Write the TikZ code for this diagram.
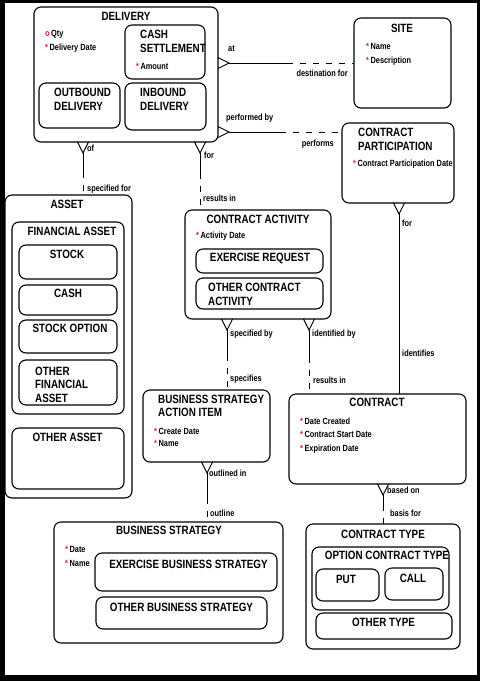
\documentclass[tikz,border=0pt]{standalone}
\usepackage{fontspec}
\setmainfont{Liberation Sans}[FakeStretch=0.82]
\usetikzlibrary{calc}
\definecolor{starred}{RGB}{222,30,40}
\newcommand{\ent}[5]{\node[ent, minimum width={(#4-#2)*1pt}, minimum height={(#5-#3)*1pt}] (#1) at (#2,#3) {};}
\newcommand{\attr}[4]{\node[attr] (#1) at (#2,#3) {\textcolor{starred}{*}\,#4};}
\newcommand{\rel}[3]{ \draw[conn] ($(#1)!5.5pt!90:(#2)$) -- ($(#1)!11pt!(#2)$) -- ($(#1)!5.5pt!-90:(#2)$);
  \draw[conn] ($(#1)!11pt!(#2)$) -- ($(#1)!#3!(#2)$);
  \draw[conn, opt] ($(#1)!#3!(#2)$) -- (#2);}

\begin{document}
\begin{tikzpicture}[x=1pt,y=-1pt,
    ent/.style={draw, line width=1.1pt, rounded corners=7pt, anchor=north west, inner sep=0pt, outer sep=0pt},
    ttl/.style={font=\fontsize{12}{13.5}\selectfont\bfseries, inner sep=0pt, anchor=north},
    ttlw/.style={ttl, anchor=north west, align=left},
    attr/.style={font=\fontsize{9}{10}\selectfont\bfseries, inner sep=0pt, anchor=base west},
    lbl/.style={attr},
    conn/.style={line width=0.9pt},
    opt/.style={dash pattern=on 6pt off 7pt}]
        % frame
        \fill[black] (0,0) rectangle (480,681);
        \fill[white] (5,3) rectangle (477,675);

        % delivery
        \ent{deliv}{34}{7}{218}{142}
        \ent{cashset}{125}{25}{205}{79}
        \ent{outdel}{39}{83}{120}{128}
        \ent{indel}{125}{83}{206}{130}
        \node[ttl] (deliv-t) at (126,12) {DELIVERY};
        \node[attr] (qty) at (45,36.5) {\textcolor{starred}{o}\,Qty};
        \attr{deldate}{45}{50.7}{Delivery Date}
        \node[ttlw] (cashset-t) at (140,30) {CASH\\SETTLEMENT};
        \attr{amount}{136}{69}{Amount}
        \node[ttlw] (outdel-t) at (54,88) {OUTBOUND\\DELIVERY};
        \node[ttlw] (indel-t) at (140,88) {INBOUND\\DELIVERY};

        % site
        \ent{site}{354}{18}{451}{108}
        \node[ttl] (site-t) at (402,23.5) {SITE};
        \attr{sitename}{366}{49}{Name}
        \attr{sitedesc}{366}{63.3}{Description}

        % contract participation
        \ent{cp}{342}{123}{454}{203}
        \node[ttlw] (cp-t) at (358,128) {CONTRACT\\PARTICIPATION};
        \attr{cpdate}{353}{166.7}{Contract Participation Date}

        % asset
        \ent{asset}{5}{195}{132}{498}
        \ent{finasset}{12}{222}{124}{414}
        \ent{stock}{19}{245}{117}{279}
        \ent{cash}{19}{285}{117}{315}
        \ent{stockopt}{19}{320}{117}{353}
        \ent{othfin}{19}{360}{117}{405}
        \ent{othasset}{12}{428}{124}{489}
        \node[ttl] (asset-t) at (67,199.7) {ASSET};
        \node[ttl] (finasset-t) at (72,226.5) {FINANCIAL ASSET};
        \node[ttl] (stock-t) at (67,249.5) {STOCK};
        \node[ttl] (cash-t) at (68,288.7) {CASH};
        \node[ttl] (stockopt-t) at (70,324) {STOCK OPTION};
        \node[ttlw] (othfin-t) at (35,366.5) {OTHER\\FINANCIAL\\ASSET};
        \node[ttl] (othasset-t) at (67.5,432.5) {OTHER ASSET};

        % contract activity
        \ent{ca}{185}{210}{331}{319}
        \ent{exreq}{196}{249}{323}{273}
        \ent{othca}{196}{278}{323}{309}
        \node[ttl] (ca-t) at (258,214.7) {CONTRACT ACTIVITY};
        \attr{cadate}{196}{238.3}{Activity Date}
        \node[ttl] (exreq-t) at (260,253) {EXERCISE REQUEST};
        \node[ttlw] (othca-t) at (208,283) {OTHER CONTRACT\\ACTIVITY};

        % business strategy action item
        \ent{bsai}{143}{390}{270}{462}
        \node[ttlw] (bsai-t) at (158,394.7) {BUSINESS STRATEGY\\ACTION ITEM};
        \attr{bsaidate}{154}{434}{Create Date}
        \attr{bsainame}{154}{446.7}{Name}

        % contract
        \ent{contract}{289}{394}{466}{484}
        \node[ttl] (contract-t) at (377,398) {CONTRACT};
        \attr{cdate}{300}{424.3}{Date Created}
        \attr{cstart}{300}{437.3}{Contract Start Date}
        \attr{cexp}{300}{451.7}{Expiration Date}

        % business strategy
        \ent{bs}{54}{522}{283}{643}
        \ent{ebs}{95}{553}{277}{591}
        \ent{obs}{96}{597}{267}{629}
        \node[ttl] (bs-t) at (169,526.4) {BUSINESS STRATEGY};
        \attr{bsdate}{65}{552.7}{Date}
        \attr{bsname}{65}{566}{Name}
        \node[ttl] (ebs-t) at (188.5,559.7) {EXERCISE BUSINESS STRATEGY};
        \node[ttl] (obs-t) at (181.5,603) {OTHER BUSINESS STRATEGY};

        % contract type
        \ent{ctype}{306}{524}{460}{649}
        \ent{oct}{312}{547}{449}{610}
        \ent{put}{316}{569}{379}{601}
        \ent{call}{385}{568}{443}{600}
        \ent{othtype}{316}{613}{452}{639}
        \node[ttl] (ctype-t) at (383,529.7) {CONTRACT TYPE};
        \node[ttl] (oct-t) at (387,551.4) {OPTION CONTRACT TYPE};
        \node[ttl] (put-t) at (346,575.4) {PUT};
        \node[ttl] (call-t) at (413,574) {CALL};
        \node[ttl] (othtype-t) at (383.5,618) {OTHER TYPE};

        % relationship ends
        \coordinate (r1a) at (deliv.east |- site.west);
        \coordinate (r2b) at ([yshift=-9pt]cp.north west);
        \coordinate (r2a) at (deliv.east |- r2b);
        \coordinate (r3a) at ([xshift=49pt]deliv.south west);
        \coordinate (r3b) at (r3a |- asset.north);
        \coordinate (r4a) at ([xshift=166pt]deliv.south west);
        \coordinate (r4b) at (r4a |- ca.north);
        \coordinate (r5a) at ([xshift=42pt]ca.south west);
        \coordinate (r5b) at (r5a |- bsai.north);
        \coordinate (r6a) at ([xshift=124pt]ca.south west);
        \coordinate (r6b) at (r6a |- contract.north);
        \coordinate (r7a) at ([xshift=57pt]cp.south west);
        \coordinate (r7b) at (r7a |- contract.north);
        \coordinate (r8a) at ([xshift=64pt]bsai.south west);
        \coordinate (r8b) at (r8a |- bs.north);
        \coordinate (r9a) at ([xshift=94pt]contract.south west);
        \coordinate (r9b) at (r9a |- ctype.north);

        % relationships
        \rel{r1a}{site.west}{0.51}
        \rel{r2a}{r2b}{0.5}
        \rel{r3a}{r3b}{0.57}
        \rel{r4a}{r4b}{0.46}
        \rel{r5a}{r5b}{0.5}
        \rel{r6a}{r6b}{0.5}
        \draw[conn] ($(r7a)!5.5pt!90:(r7b)$) -- ($(r7a)!11pt!(r7b)$) -- ($(r7a)!5.5pt!-90:(r7b)$);
        \draw[conn] ($(r7a)!11pt!(r7b)$) -- (r7b);
        \rel{r8a}{r8b}{0.6}
        \rel{r9a}{r9b}{0.52}

        % labels
        \node[lbl] (l-at) at (228,51) {at};
        \node[lbl, anchor=base east] (l-dest) at (348,76.7) {destination for};
        \node[lbl] (l-perfby) at (226,120) {performed by};
        \node[lbl, anchor=base east] (l-perf) at (334,146) {performs};
        \node[lbl] (l-of) at (87,151.7) {of};
        \node[lbl] (l-specfor) at (87,191.7) {specified for};
        \node[lbl] (l-for) at (204,158.3) {for};
        \node[lbl] (l-resin) at (203,201.7) {results in};
        \node[lbl] (l-specby) at (230,336) {specified by};
        \node[lbl] (l-specs) at (230,381.7) {specifies};
        \node[lbl] (l-identby) at (312,336) {identified by};
        \node[lbl] (l-resin2) at (313,383) {results in};
        \node[lbl] (l-for2) at (402,226.7) {for};
        \node[lbl] (l-idents) at (402,356) {identifies};
        \node[lbl] (l-outin) at (209,476.7) {outlined in};
        \node[lbl] (l-outl) at (210,516.7) {outline};
        \node[lbl] (l-based) at (387,493.3) {based on};
        \node[lbl] (l-basis) at (390,516.7) {basis for};

    \end{tikzpicture}
\end{document}
